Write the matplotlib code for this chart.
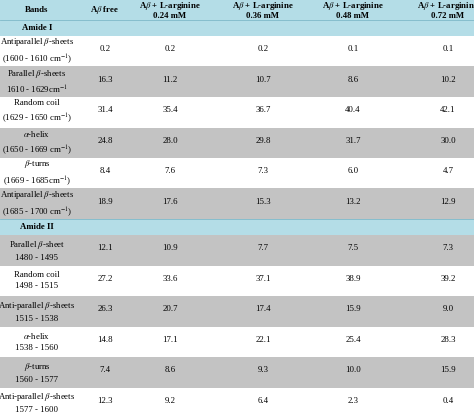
import matplotlib
matplotlib.use('Agg')
import matplotlib.pyplot as plt
from matplotlib.patches import Rectangle

plt.rcParams['font.family'] = 'Liberation Serif'
plt.rcParams['mathtext.fontset'] = 'stix'

headers = ['Bands', r'A$\beta$ free',
           'A$\\beta$ + L-arginine\n0.24 mM', 'A$\\beta$ + L-arginine\n0.36 mM',
           'A$\\beta$ + L-arginine\n0.48 mM', 'A$\\beta$ + L-arginine\n0.72 mM']

amide1_bands = ['Antiparallel $\\beta$-sheets\n(1600 - 1610 cm$^{-1}$)',
                'Parallel $\\beta$-sheets\n1610 - 1629cm$^{-1}$',
                'Random coil\n(1629 - 1650 cm$^{-1}$)',
                '$\\alpha$-helix\n(1650 - 1669 cm$^{-1}$)',
                '$\\beta$-turns\n(1669 - 1685cm$^{-1}$)',
                'Antiparallel $\\beta$-sheets\n(1685 - 1700 cm$^{-1}$)']
amide1_values = [['0.2', '0.2', '0.2', '0.1', '0.1'],
                 ['16.3', '11.2', '10.7', '8.6', '10.2'],
                 ['31.4', '35.4', '36.7', '40.4', '42.1'],
                 ['24.8', '28.0', '29.8', '31.7', '30.0'],
                 ['8.4', '7.6', '7.3', '6.0', '4.7'],
                 ['18.9', '17.6', '15.3', '13.2', '12.9']]

amide2_bands = ['Parallel $\\beta$-sheet\n1480 - 1495',
                'Random coil\n1498 - 1515',
                'Anti-parallel $\\beta$-sheets\n1515 - 1538',
                '$\\alpha$-helix\n1538 - 1560',
                '$\\beta$-turns\n1560 - 1577',
                'Anti-parallel $\\beta$-sheets\n1577 - 1600']
amide2_values = [['12.1', '10.9', '7.7', '7.5', '7.3'],
                 ['27.2', '33.6', '37.1', '38.9', '39.2'],
                 ['26.3', '20.7', '17.4', '15.9', '9.0'],
                 ['14.8', '17.1', '22.1', '25.4', '28.3'],
                 ['7.4', '8.6', '9.3', '10.0', '15.9'],
                 ['12.3', '9.2', '6.4', '2.3', '0.4']]

W, H = 474, 415
BLUE = '#b4dde7'
GREY = '#c3c3c3'
col_x = [37, 105, 170, 263, 353, 448]
fs = 6.3

fig = plt.figure(figsize=(W / 100, H / 100), dpi=100)
ax = fig.add_axes([0, 0, 1, 1])
ax.set_xlim(0, W)
ax.set_ylim(H, 0)
ax.axis('off')


def band(y0, y1, color):
    ax.add_patch(Rectangle((0, y0), W, y1 - y0, color=color, lw=0))


# header
band(0, 20, BLUE)
for x, h in zip(col_x, headers):
    ax.text(x, 10, h, ha='center', va='center', fontsize=fs,
            fontweight='bold', linespacing=1.0)
ax.plot([0, W], [20, 20], color='#7fb9c8', lw=0.6)


def section(title, y0, bands, values, first_grey):
    band(y0, y0 + 16, BLUE)
    ax.text(37, y0 + 8, title, ha='center', va='center', fontsize=fs,
            fontweight='bold')
    y = y0 + 16
    for i, (b, vals) in enumerate(zip(bands, values)):
        h = 30.5
        grey = (i % 2 == 1) != first_grey
        if grey:
            band(y, y + h, GREY)
        ax.text(col_x[0], y + h / 2, b, ha='center', va='center',
                fontsize=fs, linespacing=1.45)
        for x, v in zip(col_x[1:], vals):
            ax.text(x, y + h / 2 - 2, v, ha='center', va='center', fontsize=fs)
        y += h
    return y


y_end = section('Amide I', 20, amide1_bands, amide1_values, False)
ax.plot([0, W], [y_end, y_end], color='#7fb9c8', lw=0.6)
section('Amide II', y_end, amide2_bands, amide2_values, True)

fig.savefig('out.png', dpi=100)
